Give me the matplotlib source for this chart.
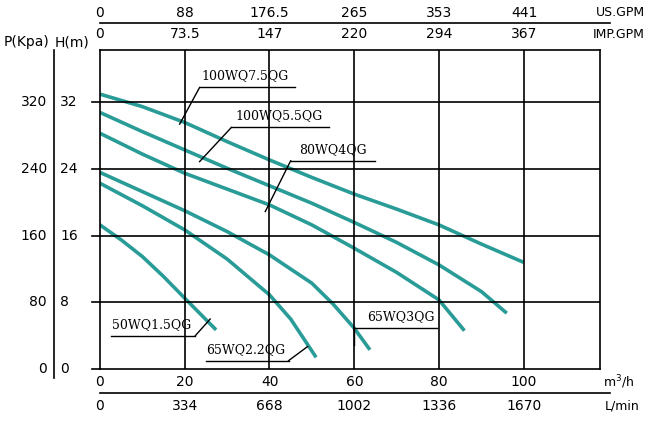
import matplotlib
matplotlib.use("Agg")
import matplotlib.pyplot as plt

# curves: flow (m3/h) vs head (m)
Q_75 = [0, 10, 20, 30, 40, 50, 60, 70, 80, 90, 100]
H_75 = [33.0, 31.5, 29.6, 27.3, 25.1, 23.0, 21.0, 19.2, 17.3, 15.0, 12.8]
Q_55 = [0, 10, 20, 30, 40, 50, 60, 70, 80, 90, 96]
H_55 = [30.8, 28.5, 26.3, 24.1, 22.0, 19.9, 17.6, 15.2, 12.5, 9.3, 6.7]
Q_4 = [0, 10, 20, 30, 40, 50, 60, 70, 80, 86]
H_4 = [28.3, 25.8, 23.5, 21.6, 19.7, 17.3, 14.5, 11.6, 8.3, 4.6]
Q_3 = [0, 10, 20, 30, 40, 50, 55, 60, 63.7]
H_3 = [23.6, 21.3, 19.0, 16.5, 13.7, 10.3, 7.8, 4.9, 2.3]
Q_22 = [0, 10, 20, 30, 40, 45, 51]
H_22 = [22.3, 19.6, 16.7, 13.2, 8.9, 6.0, 1.4]
Q_15 = [0, 5, 10, 15, 20, 27.4]
H_15 = [17.3, 15.5, 13.5, 11.1, 8.5, 4.7]

x_ticks = [0, 20, 40, 60, 80, 100]
lmin = ["0", "334", "668", "1002", "1336", "1670"]
usgpm = ["0", "88", "176.5", "265", "353", "441"]
impgpm = ["0", "73.5", "147", "220", "294", "367"]
h_ticks = [0, 8, 16, 24, 32]
p_labels = ["0", "80", "160", "240", "320"]

# label text, text pos (data), underline x-range, leader start x, leader end
labels = [
    ("100WQ7.5QG", (24, 34.4), (23.5, 46), 23.5, (18.8, 29.4)),
    ("100WQ5.5QG", (32, 29.6), (31, 54), 31, (23.5, 24.9)),
    ("80WQ4QG", (47, 25.6), (45, 65), 45, (39, 18.9)),
    ("65WQ3QG", (63, 5.5), (60, 79.5), 60, (60, 2.9)),
    ("50WQ1.5QG", (2.8, 4.6), (2.5, 22.5), 22.5, (26.0, 6.0)),
    ("65WQ2.2QG", (25, 1.6), (25, 44.5), 44.5, (49.0, 2.7)),
]

C = "#2a9c97"
fig = plt.figure(figsize=(6.48, 4.24), dpi=100)
ax = fig.add_axes([100/648, 1-369/424, 500/648, 319/424])
ax.set_xlim(0, 118)
ax.set_ylim(0, 38.3)
for q, h in [(Q_75, H_75), (Q_55, H_55), (Q_4, H_4), (Q_3, H_3), (Q_22, H_22), (Q_15, H_15)]:
    ax.plot(q, h, color=C, lw=2.6, solid_capstyle="butt", solid_joinstyle="round")
for x in x_ticks[1:]:
    ax.axvline(x, color="k", lw=1.2)
for y in h_ticks[1:]:
    ax.axhline(y, color="k", lw=1.2)
for s in ax.spines.values():
    s.set_linewidth(1.2)
ax.set_xticks([]); ax.set_yticks([])

for txt, (tx, ty), (ux0, ux1), lx0, (lx, ly) in labels:
    ax.text(tx, ty, txt, family="DejaVu Serif", fontsize=9, va="bottom")
    uy = ty - 0.6
    ax.plot([ux0, ux1], [uy, uy], color="k", lw=1)
    ax.plot([lx0, lx], [uy, ly], color="k", lw=1)

tf = dict(fontsize=10, family="DejaVu Sans")
px = lambda x: 100 + x * 4.24
for x, b in zip(x_ticks, lmin):
    fig.text(px(x)/648, 1-382/424, str(x), ha="center", va="center", **tf)
    fig.text(px(x)/648, 1-406/424, b, ha="center", va="center", **tf)
for x, a, b in zip(x_ticks, usgpm, impgpm):
    fig.text(px(x)/648, 1-13/424, a, ha="center", va="center", **tf)
    fig.text(px(x)/648, 1-34/424, b, ha="center", va="center", **tf)
sf = dict(fontsize=9, family="DejaVu Sans")
fig.text(603/648, 1-382/424, "m$^3$/h", ha="left", va="center", **sf)
fig.text(605/648, 1-406/424, "L/min", ha="left", va="center", **sf)
fig.text(645/648, 1-13/424, "US.GPM", ha="right", va="center", **sf)
fig.text(645/648, 1-34/424, "IMP.GPM", ha="right", va="center", **sf)
fig.text(4/648, 1-42/424, "P(Kpa)", ha="left", va="center", **tf)
fig.text(55/648, 1-42/424, "H(m)", ha="left", va="center", **tf)
for h, p in zip(h_ticks, p_labels):
    yy = 1 - (369 - h * 8.33) / 424
    fig.text(47/648, yy, p, ha="right", va="center", **tf)
    fig.text(60/648, yy, str(h), ha="left", va="center", **tf)
    fig.add_artist(plt.Line2D([92/648, 100/648], [yy, yy], color="k", lw=1.2))
fig.add_artist(plt.Line2D([54/648, 54/648], [1-50/424, 1-378/424], color="k", lw=1.2))
fig.add_artist(plt.Line2D([100/648, 610/648], [1-23/424, 1-23/424], color="k", lw=1.2))
fig.add_artist(plt.Line2D([100/648, 610/648], [1-393/424, 1-393/424], color="k", lw=1.2))

fig.savefig("out.png", dpi=100)
